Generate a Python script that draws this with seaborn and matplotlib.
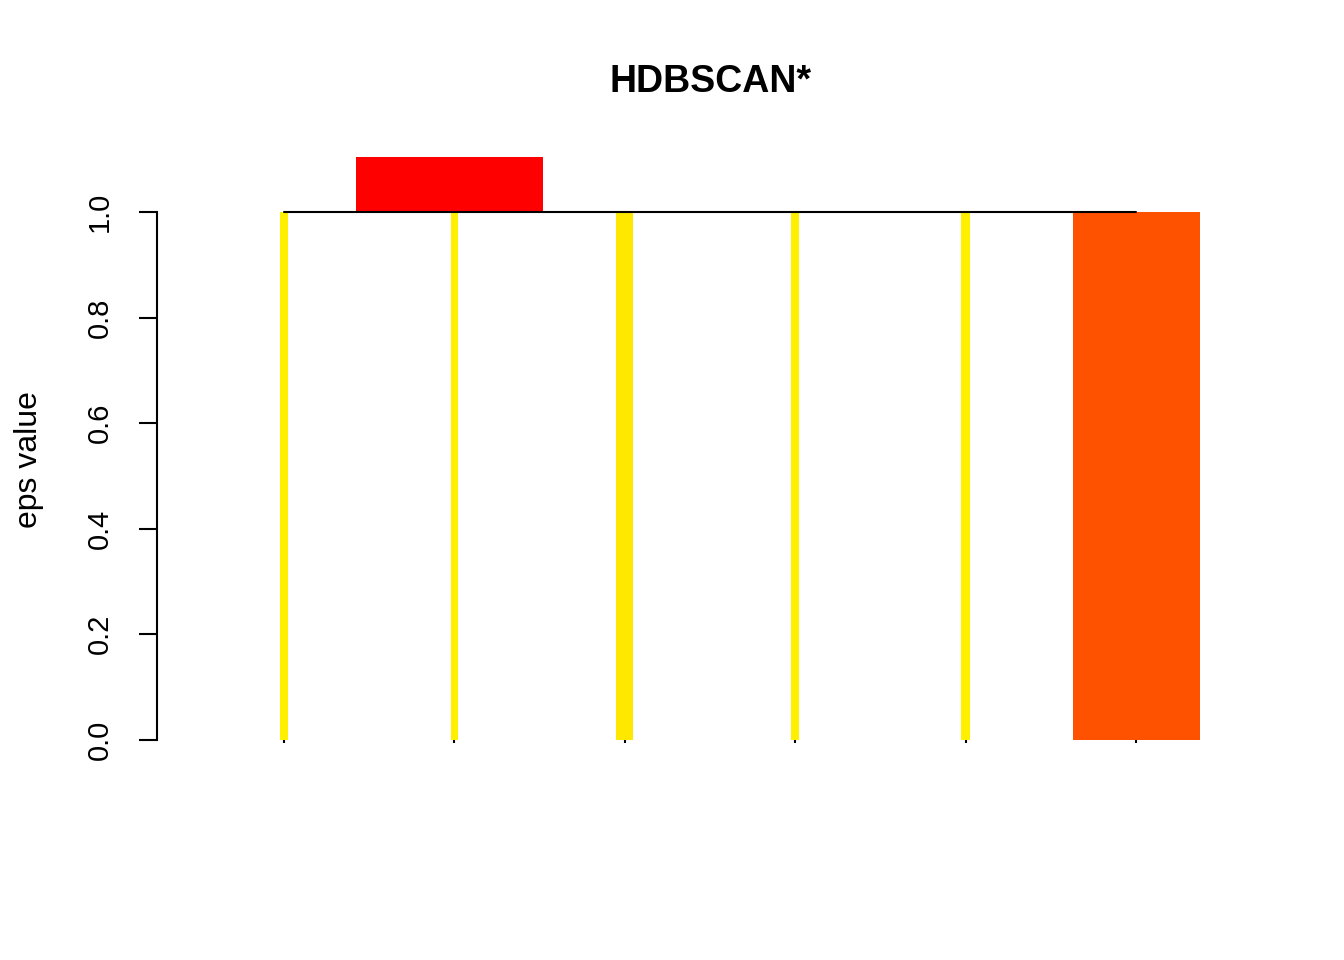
import matplotlib
matplotlib.use("Agg")
import matplotlib.pyplot as plt
import seaborn as sns

# leaf clusters of the simplified tree
cluster_pos = [1, 2, 3, 4, 5, 6]
cluster_eps = [1.0, 1.0, 1.0, 1.0, 1.0, 1.0]
cluster_width = [0.05, 0.045, 0.098, 0.047, 0.053, 0.745]
cluster_colors = ["#FFF000", "#FFF000", "#FFE800", "#FFF000", "#FFF000", "#FF5200"]

# root node sitting on top of the merge line
root_pos = 1.97
root_bottom = 1.0
root_height = 0.104
root_width = 1.097
root_color = "#FF0000"

y_ticks = [0.0, 0.2, 0.4, 0.6, 0.8, 1.0]
y_labels = ["0.0", "0.2", "0.4", "0.6", "0.8", "1.0"]

sns.set_theme(style="white")
plt.rcParams["font.family"] = ["Liberation Sans", "DejaVu Sans"]
plt.rcParams["text.color"] = "black"

W, H = 1344, 960
fig = plt.figure(figsize=(W / 100, H / 100), dpi=100)
ax = fig.add_axes([157 / W, 1 - 763 / H, (1263 - 157) / W, (763 - 134) / H])

ax.bar(cluster_pos, cluster_eps, width=cluster_width, color=cluster_colors, linewidth=0, zorder=2)
ax.bar([root_pos], [root_height], bottom=root_bottom, width=root_width, color=root_color,
       linewidth=0, zorder=2)
sns.lineplot(x=[cluster_pos[0], cluster_pos[-1]], y=[root_bottom, root_bottom], color="black",
             linewidth=1.5, ax=ax, zorder=3)

ax.set_xlim(0.255, 6.745)
ax.set_ylim(-0.0442, 1.148)

for side in ["top", "right", "bottom"]:
    ax.spines[side].set_visible(False)
ax.spines["bottom"].set_position(("data", 0))
ax.spines["left"].set_bounds(0, 1)
ax.spines["left"].set_color("black")
ax.spines["left"].set_linewidth(1.5)

ax.set_yticks(y_ticks)
ax.set_yticklabels(y_labels, rotation=90, va="center", fontsize=21, color="black")
ax.tick_params(axis="y", length=13, width=1.5, color="black", pad=18, left=True)
ax.set_xticks(cluster_pos)
ax.set_xticklabels([])
ax.tick_params(axis="x", length=2, width=1.5, color="black", bottom=True)
ax.grid(False)

fig.text(29 / W, 1 - 460 / H, "eps value", rotation=90, ha="center", va="center", fontsize=23,
         color="black")
fig.text(710 / W, 1 - 92 / H, "HDBSCAN*", ha="center", va="baseline", fontsize=27,
         fontweight="bold", color="black")

fig.savefig("out.png", dpi=100, facecolor="white")
